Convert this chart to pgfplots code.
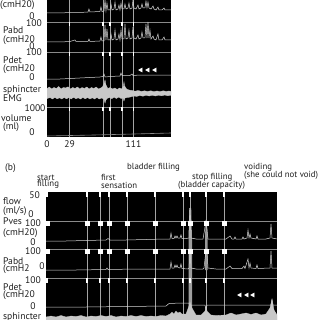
\documentclass[border=0pt]{standalone}
\usepackage{fontspec}
\setmainfont{PT Sans}
\usepackage{pgfplots}
\pgfplotsset{compat=1.18}
\definecolor{trace}{HTML}{D6D6D6}
\definecolor{gridc}{HTML}{8A8A8A}
\definecolor{markc}{HTML}{A4A4A4}
\definecolor{txt}{HTML}{1E1E1E}
\definecolor{emg}{HTML}{C8C8C8}
\newcommand{\lab}{\fontsize{9.6}{10}\selectfont}
\newcommand{\ann}{\fontsize{8.8}{9}\selectfont}
\pgfplotsset{panel/.style={scale only axis, axis background/.style={fill=black},
  axis line style={draw=none}, tick style={draw=none}, major tick length=0pt,
  y dir=reverse, /pgf/number format/assume math mode=true,
  ticklabel style={font=\lab, text=txt}, ytick=\empty}}
\begin{document}
\begin{tikzpicture}[x=1pt,y=1pt]
\path[use as bounding box] (0,0) rectangle (320,-320);
% ---------------- panel (a) ----------------
\begin{axis}[panel, at={(47pt,0pt)}, anchor=north west, width=124pt, height=137pt,
  xmin=0, xmax=159, ymin=0, ymax=137,
  xtick={0,29,111}]
\addplot[gridc, line width=0.6pt] coordinates {(0,22) (159,22)};
\addplot[gridc, line width=0.6pt] coordinates {(0,52) (159,52)};
\addplot[gridc, line width=0.6pt] coordinates {(0,107) (159,107)};
\pgfplotsinvokeforeach{29,72,81,96,111}{
  \addplot[markc, line width=0.5pt] coordinates {(#1,0) (#1,137)};}
% Pves
\addplot[trace, line width=0.5pt] coordinates {(0,13) (16.7,13) (29.5,12.5) (42.3,12.5) (52.6,12) (53.8,9) (55.1,12) (67.9,11.5) (69.2,7) (70.5,11.5) (73.1,11) (74.4,0) (75.6,11) (76.9,3) (78.2,10) (80.8,10) (82.1,4) (83.3,10) (85.9,9) (87.2,2) (88.5,10) (91,9) (92.3,5) (93.6,10) (94.9,3) (96.2,9) (98.7,9) (100,4) (101.3,9) (103.8,8) (105.1,3) (106.4,9) (109,8) (110.3,0) (111.5,8) (114.1,9) (116.7,5) (117.9,9) (120.5,8) (121.8,4) (123.1,8) (125.6,8) (126.9,1) (128.2,8) (129.5,2) (130.8,8) (133.3,9) (135.9,6) (137.2,9) (139.7,10) (142.3,7) (143.6,10) (147.4,10) (150,8) (151.3,10) (159,10)};
% Pabd
\addplot[trace, line width=0.5pt] coordinates {(0,42) (16.7,42) (29.5,41.5) (35.9,40) (37.2,41.5) (52.6,41.5) (53.8,39) (55.1,41.5) (67.9,41) (69.2,37) (70.5,41) (73.1,41) (74.4,25) (75.6,40) (76.9,29) (78.2,40) (80.8,40) (82.1,34) (83.3,40) (85.9,39) (87.2,30) (88.5,40) (91,39) (92.3,34) (93.6,40) (94.9,30) (96.2,39) (98.7,39) (100,24) (101.3,39) (103.8,38) (105.1,30) (106.4,39) (109,38) (110.3,27) (111.5,38) (114.1,39) (116.7,35) (117.9,39) (120.5,38) (121.8,32) (123.1,38) (125.6,38) (126.9,24) (128.2,38) (129.5,22) (130.8,38) (132,30) (133.3,39) (135.9,36) (137.2,39) (139.7,40) (142.3,34) (143.6,40) (147.4,40) (150,37) (151.3,40) (159,40)};
% Pdet
\addplot[trace, line width=0.5pt] coordinates {(0,79) (16.7,79) (29.5,78.5) (42.3,78) (55.1,77.5) (67.9,77) (71.8,76.5) (73.1,74) (74.4,77) (80.8,76.5) (93.6,76) (94.9,73) (96.2,75.5) (106.4,75.5) (109,74) (110.3,75.5) (119.2,75) (132,75) (144.9,75) (159,75)};
% sphincter EMG
\addplot[fill=emg, draw=emg, line width=0.3pt] coordinates {(0,88.5) (3,87) (6,89) (9,87.5) (12,88.5) (15,86.5) (18,89) (21,87.5) (24,88) (27,86.8) (30,89) (33,87.5) (36,88.5) (39,87) (42,89) (45,87.5) (48,88.5) (51,87) (54,89) (57,87.5) (60,88.5) (63,87) (66,89) (69,88) (71,87) (73,84) (74.4,80) (75.6,85) (78,88.5) (81,87.5) (84,89) (87,88) (90,89.5) (93,88) (96,89) (98,86) (98.7,82) (99.5,86) (102,89) (105,90) (109,90.5) (113,91.2) (117,90.5) (121,91.5) (125,90.8) (129,91.5) (133,90.8) (137,91.6) (141,91) (145,91.6) (149,90.8) (153,91.5) (156,91) (159,91.4)
 (159,95.2) (155,95.8) (151,95) (147,95.8) (143,95.2) (139,96) (135,95.2) (131,96) (127,95.2) (123,96.2) (119,95.5) (115,96.4) (111,96) (107,97) (103,97.5) (100,98) (98.7,101) (97.5,98) (95,98.5) (92,97) (89,98.5) (86,97.2) (83,98.7) (80,97.5) (77,98.5) (75.6,100) (74.4,103) (73,99) (70,98) (67,99) (64,97.5) (61,99) (58,97.8) (55,99) (52,97.5) (49,98.8) (46,97.5) (43,99) (40,97.8) (37,98.8) (34,97.2) (31,99) (28,97.6) (25,98.8) (22,97.5) (19,99) (16,97.8) (13,98.8) (10,97.4) (7,99) (4,97.6) (0,98.5)} --cycle;
% volume
\addplot[gridc, line width=0.6pt] coordinates {(0,136) (60,135) (111,134) (159,133)};
% event markers
\addplot[only marks, mark=|, mark size=2pt, mark options={white, line width=1.6pt}] coordinates {(29,24) (72,24) (81,24) (96,24) (111,24) (29,54) (72,54) (81,54) (96,54) (111,54) (29,109) (72,109) (81,109) (96,109) (111,109)};
% arrowheads
\addplot[only marks, mark=triangle*, mark size=2.4pt, mark options={white, rotate=90}] coordinates {(120.5,70) (129.5,70) (138.5,70)};
\end{axis}
% ---------------- panel (b) ----------------
\begin{axis}[panel, at={(46pt,-192pt)}, anchor=north west, width=231pt, height=128pt,
  xmin=0, xmax=231, ymin=192, ymax=320, xtick=\empty]
\addplot[gridc, line width=0.6pt] coordinates {(0,221) (231,221)};
\addplot[gridc, line width=0.6pt] coordinates {(0,249) (231,249)};
\addplot[gridc, line width=0.6pt] coordinates {(0,278) (231,278)};
\pgfplotsinvokeforeach{41,54,63,81,109,137,144,160,178}{
  \addplot[markc, line width=0.5pt] coordinates {(#1,192) (#1,320)};}
% broad artefact columns
\addplot[fill=gray!75, draw=none] coordinates {(142.5,240) (143.3,208) (145.2,208) (146,240) (146,320) (142.5,320)} --cycle;
\addplot[fill=gray!80, draw=none] coordinates {(159,238) (159.7,220) (160.9,220) (161.6,238) (161.6,270) (159,270)} --cycle;
% Pves
\addplot[trace, line width=0.5pt] coordinates {(0,241) (20,241) (40,240.5) (60,240) (62,238.5) (64,240) (80,240) (100,239.5) (120,239) (124,239) (125,233) (126,238.5) (128,238.5) (129,236) (130,238) (131,236) (132,238) (134,238) (135,235) (136,238.5) (140,238.5) (143,238) (144,208) (145,238) (150,239) (157,239) (160,221) (162,239) (170,239) (180,239) (184,236) (186,239) (188,239) (189,237) (190,239) (196,239) (197,237) (198,239) (201,238) (202,230) (203,238) (204,234) (205,238) (210,239) (211,236) (212,239) (220,239) (224,238) (225,224) (226,238) (231,239)};
% Pabd
\addplot[trace, line width=0.5pt] coordinates {(0,270) (30,270) (60,269.5) (61,268) (62,269.5) (90,269) (120,269) (124,269) (125,262) (126,268) (128,268) (129,265) (130,267.5) (131,265) (132,267.5) (134,268) (135,264) (136,268.5) (142,269) (143,268) (144,250) (145,268) (150,269) (157,269) (158,268) (160,250) (161,252) (162,268) (170,269) (180,269) (184,266) (186,268.5) (196,268.5) (198,266) (199,268.5) (202,259) (203,268) (204,263) (205,268) (210,268.5) (211,265) (212,268.5) (224,268) (225,251) (226,268) (231,268)};
% Pdet
\addplot[trace, line width=0.5pt] coordinates {(0,307) (40,307) (80,306.5) (120,306) (123,303.5) (135,303) (143,303) (144,318) (145,305) (159,305) (160,310) (161,305) (190,305) (225,305) (226,300) (227,305) (231,305)};
% sphincter EMG
\addplot[fill=emg, draw=emg, line width=0.3pt] coordinates {(0,317) (5,316) (10,317) (15,315.5) (20,317) (25,316) (30,316.5) (35,315.5) (40,317) (45,316) (50,316.5) (55,315.5) (60,316.5) (65,315.5) (70,317) (75,316) (80,316.5) (85,315.5) (90,316.5) (95,315.5) (100,316.5) (105,316) (110,316.5) (115,315.5) (120,316) (124,314) (126,312) (128,314) (130,311) (132,313) (134,312) (136,314) (140,314) (143,306) (144,302) (146,308) (150,315) (155,315) (159,311) (160,306) (161,311) (165,315) (170,315.5) (180,315) (185,313) (190,315) (195,314) (200,313) (205,314.5) (210,313) (215,315) (220,314) (224,308) (226,299) (228,310) (231,315) (231,321) (0,321)} --cycle;
% event markers
\addplot[only marks, mark=|, mark size=2.5pt, mark options={white, line width=1.5pt}] coordinates {(1,194.5) (41,194.5) (54,194.5) (63,194.5) (81,194.5) (109,194.5) (137,194.5) (144,194.5) (160,194.5) (178,194.5) (1,280.5) (41,280.5) (54,280.5) (63,280.5) (81,280.5) (109,280.5) (137,280.5) (144,280.5) (160,280.5) (178,280.5)};
\addplot[only marks, mark=square*, mark size=1.9pt, mark options={fill=white, draw=white}] coordinates {(1,223.5) (41,223.5) (54,223.5) (63,223.5) (81,223.5) (109,223.5) (137,223.5) (144,223.5) (160,223.5) (178,223.5) (1,251.5) (41,251.5) (54,251.5) (63,251.5) (81,251.5) (109,251.5) (137,251.5) (144,251.5) (160,251.5) (178,251.5)};
% arrowheads
\addplot[only marks, mark=triangle*, mark size=2.4pt, mark options={white, rotate=90}] coordinates {(194,295) (201,295) (207,295)};
\end{axis}
% ---------------- channel scale numbers ----------------
\begin{scope}[every node/.style={anchor=center, inner sep=0pt, text=txt, font=\lab}]
\node at (32,-16.5) {0};
\node at (34,-23) {100};
\node at (32,-46) {0};
\node at (34,-52.5) {100};
\node at (32,-77) {0};
\node at (35,-108) {1000};
\node at (32,-132) {0};
\node at (34.5,-195) {50};
\node at (31,-214.5) {0};
\node at (33,-223.5) {100};
\node at (33,-242) {0};
\node at (33,-251.5) {100};
\node at (42,-266) {0};
\node at (33,-280) {100};
\node at (33,-306.5) {0};
\end{scope}
% ---------------- text ----------------
\begin{scope}[every node/.style={anchor=west, inner sep=0pt, text=txt}]
\node[font=\lab] at (0,-5) {(cmH20)};
\node[font=\lab] at (3,-30) {Pabd};
\node[font=\lab] at (3,-40) {(cmH20};
\node[font=\lab] at (3,-60) {Pdet};
\node[font=\lab] at (3,-69) {(cmH20};
\node[font=\lab] at (3,-90) {sphincter};
\node[font=\lab] at (3,-98.5) {EMG};
\node[font=\lab] at (1,-118) {volume};
\node[font=\lab] at (3,-127) {(ml)};
\node[font=\lab] at (5,-168) {(b)};
\node[font=\ann] at (37,-178) {start};
\node[font=\ann] at (37,-184.5) {filling};
\node[font=\ann] at (101,-177) {first};
\node[font=\ann] at (101,-185) {sensation};
\node[font=\ann] at (127,-167) {bladder filling};
\node[font=\ann] at (192,-177) {stop filling};
\node[font=\ann] at (178,-185.5) {(bladder capacity)};
\node[font=\ann] at (244,-167) {voiding};
\node[font=\ann] at (244,-175.5) {(she could not void)};
\node[font=\lab] at (3,-201) {flow};
\node[font=\lab] at (3,-211.5) {(ml/s)};
\node[font=\lab] at (3,-221.5) {Pves};
\node[font=\lab] at (3,-233) {(cmH20)};
\node[font=\lab] at (3,-261) {Pabd};
\node[font=\lab] at (3,-269) {(cmH2};
\node[font=\lab] at (3,-287.5) {Pdet};
\node[font=\lab] at (3,-295.5) {(cmH20};
\node[font=\lab] at (3,-317) {sphincter};
\end{scope}
\end{tikzpicture}
\end{document}
